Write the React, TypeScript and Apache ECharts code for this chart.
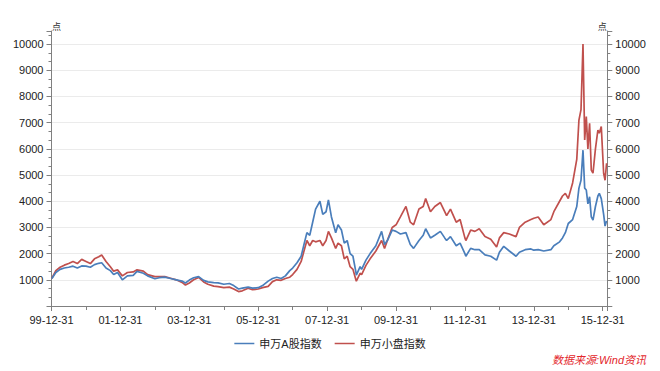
import React, { useEffect, useRef } from "react";
import * as echarts from "echarts";

const dates: string[] = [
  "2000-01-04","2000-02-15","2000-03-31","2000-05-15","2000-06-30","2000-08-15","2000-09-30","2000-11-15","2000-12-31",
  "2001-02-15","2001-03-31","2001-05-15","2001-06-15","2001-07-31","2001-09-15","2001-10-20","2001-11-30",
  "2002-01-20","2002-03-15","2002-05-15","2002-06-25","2002-08-31","2002-10-15","2002-12-31",
  "2003-02-15","2003-04-15","2003-06-15","2003-08-15","2003-10-15","2003-11-20","2003-12-31",
  "2004-02-15","2004-04-08","2004-05-31","2004-07-15","2004-09-15","2004-10-31","2004-12-31",
  "2005-02-28","2005-04-15","2005-06-05","2005-07-15","2005-09-15","2005-10-31","2005-12-31",
  "2006-02-15","2006-04-15","2006-05-31","2006-07-15","2006-08-31","2006-10-15","2006-11-30","2006-12-31",
  "2007-02-15","2007-03-31","2007-04-30","2007-05-31","2007-06-30","2007-07-31","2007-08-31","2007-10-16","2007-11-15","2007-12-20",
  "2008-01-14","2008-02-15","2008-03-31","2008-04-25","2008-05-31","2008-06-30","2008-07-31","2008-08-31","2008-09-30","2008-10-31","2008-11-05","2008-12-15","2008-12-31",
  "2009-02-15","2009-03-31","2009-05-31","2009-07-31","2009-08-31","2009-09-30","2009-11-20","2009-12-31",
  "2010-02-15","2010-04-15","2010-05-31","2010-07-05","2010-08-31","2010-10-15","2010-11-10","2010-12-31",
  "2011-02-15","2011-04-15","2011-05-31","2011-06-20","2011-07-31","2011-09-30","2011-11-10","2011-12-31",
  "2012-01-10","2012-03-01","2012-04-15","2012-05-31","2012-07-31","2012-09-30","2012-12-01","2012-12-31",
  "2013-02-15","2013-04-15","2013-06-25","2013-07-31","2013-09-30","2013-11-30","2013-12-31",
  "2014-02-15","2014-04-15","2014-06-30","2014-07-31","2014-09-30","2014-10-31","2014-11-30","2014-12-31",
  "2015-02-15","2015-03-31","2015-04-23","2015-05-15","2015-06-05","2015-06-23","2015-07-10","2015-07-27","2015-08-14",
  "2015-09-01","2015-09-19","2015-10-15","2015-11-10","2015-11-25","2015-12-16","2016-01-10","2016-01-25","2016-02-10",
];

const swAShare: number[] = [
  1050,1280,1400,1450,1480,1520,1450,1530,1520,
  1480,1580,1630,1650,1450,1350,1200,1280,
  1000,1150,1170,1320,1250,1150,1040,
  1080,1100,1050,1000,950,880,990,
  1080,1120,980,920,890,880,830,
  860,780,650,680,720,680,700,
  780,950,1050,1100,1050,1150,1350,1450,
  1650,1900,2350,2800,2700,3200,3700,4000,3500,3600,
  4050,3400,2800,3100,2900,2400,2500,2000,1900,1300,1180,1500,1400,
  1750,2000,2300,2850,2350,2500,2900,2850,
  2750,2800,2350,2200,2500,2700,2950,2600,
  2700,2850,2600,2500,2650,2300,2400,2000,
  1900,2200,2150,2150,1950,1900,1750,2050,
  2280,2100,1900,2050,2150,2180,2130,
  2150,2100,2150,2300,2450,2600,2800,3150,
  3300,3800,4500,4800,5950,4500,4430,3900,4170,
  3400,3280,3800,4200,4300,4100,3500,3050,3250,
];

const swSmallCap: number[] = [
  1060,1350,1480,1560,1620,1700,1620,1780,1700,
  1620,1800,1880,1950,1700,1500,1330,1380,
  1150,1280,1300,1380,1330,1200,1120,
  1120,1120,1060,1000,900,800,880,
  1000,1090,920,830,760,740,700,
  720,650,550,580,680,620,650,
  700,750,930,1000,980,1050,1100,1200,
  1400,1700,2100,2500,2300,2500,2450,2500,2300,2500,
  2850,2600,2200,2400,2300,1800,1900,1500,1400,1000,950,1250,1200,
  1550,1800,2100,2500,2200,2500,3000,3100,
  3400,3800,3200,3100,3700,3800,4100,3600,
  3800,3950,3600,3450,3700,3200,3300,2600,
  2500,2900,2850,2950,2650,2550,2250,2600,
  2800,2750,2650,3000,3200,3300,3350,
  3400,3100,3300,3600,4000,4200,4300,4100,
  4700,5600,7100,7500,10000,6340,7230,6000,6980,
  5190,5070,6000,6720,6600,6850,5070,4800,5450,
];

const xTickYears: string[] = ["99","01","03","05","07","09","11","13","15"];

const seriesNames: string[] = ["申万A股指数", "申万小盘指数"];
const sourceText = "数据来源:Wind资讯";

const BASE = Date.parse("1999-12-31");
const YEAR_MS = 365.25 * 86400000;
const toYears = (d: string) => (Date.parse(d) - BASE) / YEAR_MS;

const FONT = "'Liberation Sans', 'Noto Sans CJK SC', sans-serif";

export default function App() {
  const ref = useRef<HTMLDivElement>(null);
  useEffect(() => {
    if (!ref.current) return;
    const chart = echarts.init(ref.current, null, { renderer: "svg" });
    const xs = dates.map(toYears);
    const yAxisBase = (pos: "left" | "right") => ({
      type: "value",
      position: pos,
      min: 0,
      max: 10500,
      interval: 1000,
      name: "点",
      nameLocation: "end",
      nameGap: 0,
      nameTextStyle: {
        fontSize: 9,
        color: "#333",
        fontFamily: FONT,
        padding: pos === "left" ? [0, 0, 0, 10] : [0, 10, 0, 0],
      },
      axisLine: { show: true, lineStyle: { color: "#808080", width: 1 } },
      axisTick: { show: true, length: 5, lineStyle: { color: "#808080" } },
      minorTick: { show: true, splitNumber: 3, length: 3, lineStyle: { color: "#808080" } },
      axisLabel: {
        fontSize: 11,
        color: "#222",
        margin: 8,
        fontFamily: FONT,
        formatter: (v: number) => (v > 0 && Math.round(v) % 1000 === 0 ? String(Math.round(v)) : ""),
      },
      splitLine: {
        show: pos === "left",
        showMinLine: false,
        showMaxLine: false,
        lineStyle: { color: "#ebebeb", width: 1 },
      },
    });
    chart.setOption({
      animation: false,
      backgroundColor: "#ffffff",
      textStyle: { fontFamily: FONT },
      grid: { left: 51.5, right: 52.7, top: 31, bottom: 65, containLabel: false },
      legend: {
        top: 333,
        left: "center",
        icon: "rect",
        itemWidth: 20,
        itemHeight: 1.5,
        itemGap: 13,
        textStyle: { fontSize: 11, color: "#222", fontFamily: FONT },
        data: seriesNames,
      },
      xAxis: {
        type: "value",
        min: 0,
        max: (607.3 - 51.5) / 34.45,
        interval: 2,
        axisLine: { show: true, onZero: false, lineStyle: { color: "#808080" } },
        axisTick: { show: true, length: 5, lineStyle: { color: "#808080" } },
        minorTick: { show: true, splitNumber: 2, length: 4, lineStyle: { color: "#808080" } },
        splitLine: { show: false },
        axisLabel: {
          fontSize: 11,
          color: "#222",
          margin: 8,
          fontFamily: FONT,
          showMaxLabel: false,
          formatter: (v: number) => {
            const i = Math.round(v / 2);
            if (Math.abs(v - i * 2) > 1e-6 || i < 0 || i >= xTickYears.length) return "";
            return xTickYears[i] + "-12-31";
          },
        },
      },
      yAxis: [yAxisBase("left"), yAxisBase("right")],
      series: [
        {
          name: seriesNames[0],
          type: "line",
          showSymbol: false,
          symbol: "none",
          data: xs.map((x, i) => [x, swAShare[i]]),
          lineStyle: { color: "#4a7ebb", width: 1.7 },
          itemStyle: { color: "#4a7ebb" },
          z: 3,
        },
        {
          name: seriesNames[1],
          type: "line",
          showSymbol: false,
          symbol: "none",
          data: xs.map((x, i) => [x, swSmallCap[i]]),
          lineStyle: { color: "#c0504d", width: 1.7 },
          itemStyle: { color: "#c0504d" },
          z: 2,
        },
      ],
      graphic: [
        {
          type: "text",
          right: 14,
          top: 354,
          style: {
            text: sourceText,
            fill: "#e3262b",
            fontSize: 11,
            fontStyle: "italic",
            fontFamily: FONT,
          },
        },
      ],
    });
    return () => chart.dispose();
  }, []);
  return <div ref={ref} style={{ width: 660, height: 371, position: "fixed", left: 0, top: 0 }} />;
}
